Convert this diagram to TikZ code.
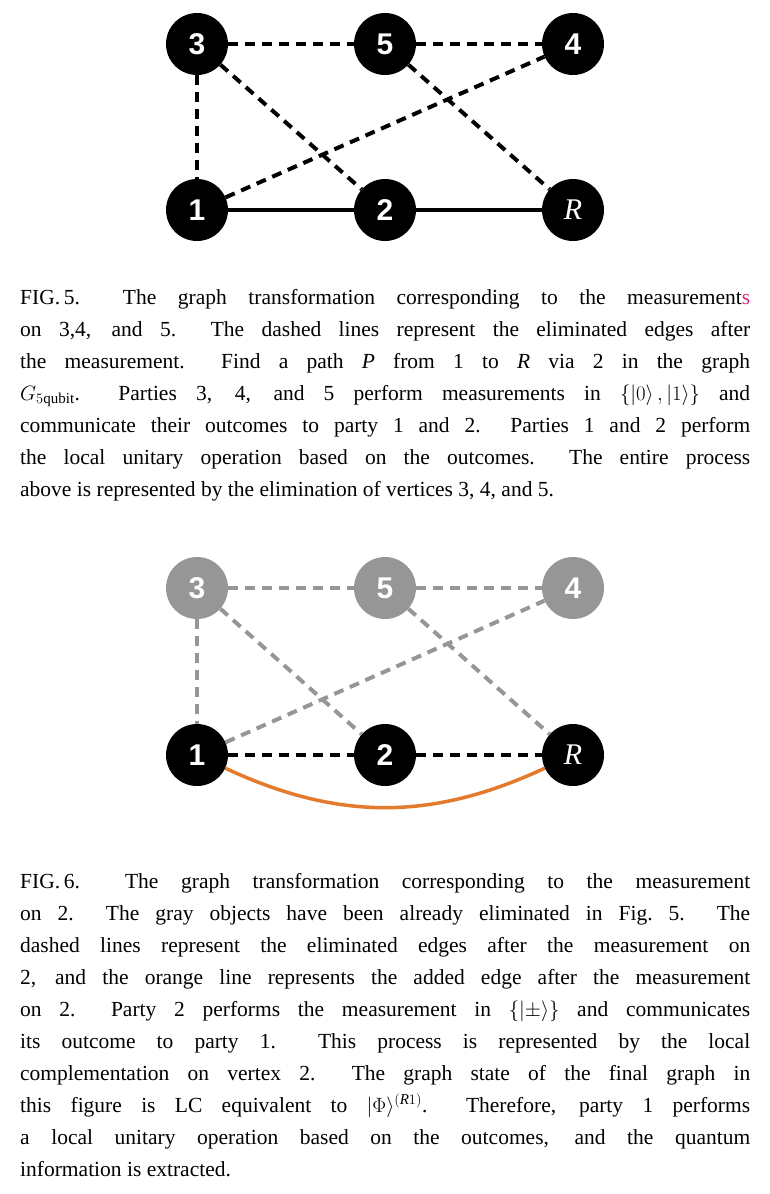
\documentclass[tikz,border=0pt]{standalone}
\usepackage{fontspec}
\usepackage{amsmath}
\setmainfont{Liberation Serif}
\newfontfamily\nodefont{Liberation Sans}
\newfontfamily\rfont{Liberation Serif}
\definecolor{gr}{RGB}{150,150,150}
\definecolor{org}{RGB}{228,122,45}
\definecolor{mag}{RGB}{220,40,130}
\begin{document}
\begin{tikzpicture}[x=1pt,y=-1pt,
  v/.style={circle,fill=black,minimum size=62pt,inner sep=0pt,text=white,font=\nodefont\bfseries\fontsize{30}{30}\selectfont},
  g/.style={v,fill=gr},
  dl/.style={line width=4pt,dash pattern=on 10pt off 7pt},
  sl/.style={line width=3.5pt},
  captxt/.style={anchor=north west,text width=730pt,align=justify,inner sep=0pt,font=\fontsize{21.5}{32}\selectfont}]
\useasboundingbox (0,0) rectangle (770,1194);
% Fig 5
\node[v] (a3) at (197,44) {3};
\node[v] (a5) at (385,44) {5};
\node[v] (a4) at (573,44) {4};
\node[v] (a1) at (197,210) {1};
\node[v] (a2) at (385,210) {2};
\node[v] (aR) at (573,210) {\rfont\mdseries\itshape R};
\draw[dl] (a3) -- (a5); \draw[dl] (a5) -- (a4);
\draw[dl] (a3) -- (a1); \draw[dl] (a3) -- (a2);
\draw[dl] (a1) -- (a4); \draw[dl] (a5) -- (aR);
\draw[sl] (a1) -- (a2); \draw[sl] (a2) -- (aR);
\node[captxt] (c5) at (20,289) {FIG.\,5.\ \ The graph transformation corresponding to the measurement{\color{mag}s}\linebreak
on 3,4, and 5.\ \ The dashed lines represent the eliminated edges after\linebreak
the measurement.\ \ Find a path \textit{P} from 1 to \textit{R} via 2 in the graph\linebreak
$G_{5\text{qubit}}$.\ \ Parties 3, 4, and 5 perform measurements in $\{|0\rangle\,,|1\rangle\}$ and\linebreak
communicate their outcomes to party 1 and 2.\ \ Parties 1 and 2 perform\linebreak
the local unitary operation based on the outcomes.\ \ The entire process\linebreak
above is represented by the elimination of vertices 3, 4, and 5.};
% Fig 6
\node[g] (b3) at (197,588) {3};
\node[g] (b5) at (385,588) {5};
\node[g] (b4) at (573,588) {4};
\node[v] (b1) at (197,755) {1};
\node[v] (b2) at (385,755) {2};
\node[v] (bR) at (573,755) {\rfont\mdseries\itshape R};
\draw[dl,gr] (b3) -- (b5); \draw[dl,gr] (b5) -- (b4);
\draw[dl,gr] (b3) -- (b1); \draw[dl,gr] (b3) -- (b2);
\draw[dl,gr] (b1) -- (b4); \draw[dl,gr] (b5) -- (bR);
\draw[dl] (b1) -- (b2); \draw[dl] (b2) -- (bR);
\draw[sl,org] (b1) to[out=-25,in=-155] (bR);
\node[captxt] (c6) at (20,873) {FIG.\,6.\ \ The graph transformation corresponding to the measurement\linebreak
on 2.\ \ The gray objects have been already eliminated in Fig.~5.\ \ The\linebreak
dashed lines represent the eliminated edges after the measurement on\linebreak
2, and the orange line represents the added edge after the measurement\linebreak
on 2.\ \ Party 2 performs the measurement in $\{|\pm\rangle\}$ and communicates\linebreak
its outcome to party 1.\ \ This process is represented by the local\linebreak
complementation on vertex 2.\ \ The graph state of the final graph in\linebreak
this figure is LC equivalent to $|\Phi\rangle^{(\mathit{R}1)}$.\ \ Therefore, party 1 performs\linebreak
a local unitary operation based on the outcomes, and the quantum\linebreak
information is extracted.};
\end{tikzpicture}
\end{document}
